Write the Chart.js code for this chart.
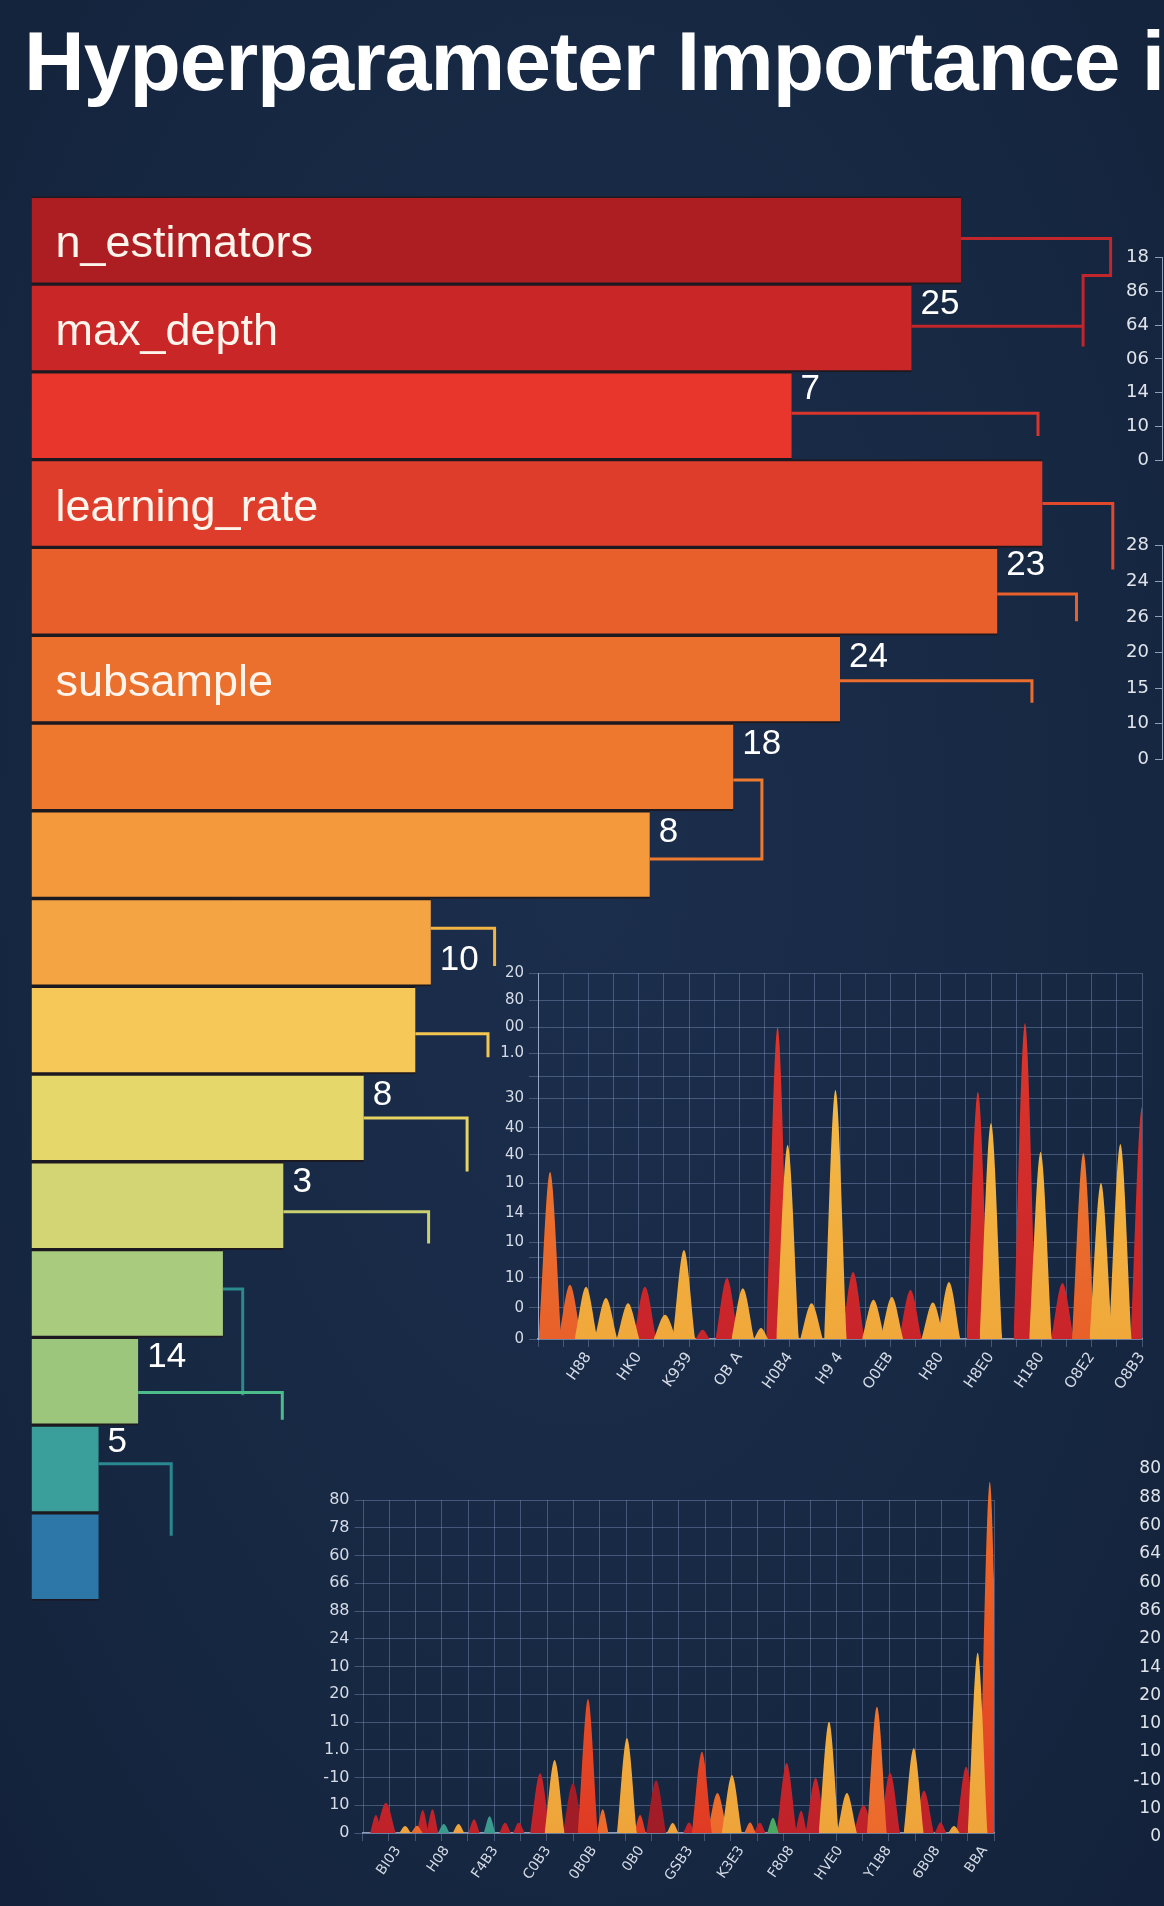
<!DOCTYPE html>
<html>
<head>
<meta charset="utf-8">
<title>Hyperparameter Importance</title>
<script src="https://cdn.jsdelivr.net/npm/chart.js@4.4.1/dist/chart.umd.min.js"></script>
<style>
html, body { margin: 0; padding: 0; overflow: hidden; }
body {
    width: 1164px; height: 1906px; position: relative;
    background: radial-gradient(ellipse at 50% 45%, #1b2e4c 0%, #172843 60%, #13223a 100%);
}
#title {
    position: absolute; left: 24px; top: 19px; margin: 0;
    font: bold 84px/84px "Liberation Sans", Arial, sans-serif;
    letter-spacing: -1px; color: #ffffff; white-space: nowrap;
}
canvas { position: absolute; }
</style>
</head>
<body>
<h1 id="title">Hyperparameter Importance in Gradient Boosting</h1>
<canvas id="bars" width="1164" height="1430" style="left:0;top:180px"></canvas>
<canvas id="mid" width="724" height="460" style="left:440px;top:955px"></canvas>
<canvas id="bottom" width="730" height="451" style="left:290px;top:1455px"></canvas>
<canvas id="side1" width="160" height="236" style="left:1080px;top:241px"></canvas>
<canvas id="side2" width="160" height="247" style="left:1080px;top:529px"></canvas>
<canvas id="side3" width="160" height="396" style="left:1080px;top:1455px"></canvas>
<script>
// ---- main importance bars (top to bottom) ----
const barCats = ['n_estimators', 'max_depth', '', 'learning_rate', '', 'subsample', '', '',
                 '', '', '', '', '', '', '', '']
const barValues = [84.5, 80.0, 69.1, 91.9, 87.8, 73.5, 63.8, 56.2, 36.3, 34.9, 30.2, 22.9, 17.4, 9.7, 6.1, 6.1]
const barTags = ['', '25', '7', '', '23', '24', '18', '8', '10', '', '8', '3', '', '14', '5', '']

// bracket lines, [value, offset in bars] - the line starts at the bar end
const connectors = [
    {bar: 0, pts: [[98.1, -0.02], [98.1, 0.40], [95.6, 0.40], [95.6, 1.21]]},
    {bar: 1, pts: [[95.6, -0.02]]},
    {bar: 2, pts: [[91.5, -0.03], [91.5, 0.23]]},
    {bar: 3, pts: [[98.3, 0], [98.3, 0.75]]},
    {bar: 4, pts: [[95.0, 0.03], [95.0, 0.34]]},
    {bar: 5, pts: [[90.95, 0.02], [90.95, 0.27]]},
    {bar: 6, pts: [[66.4, 0.15], [66.4, 1.05], [56.2, 1.05]]},
    {bar: 8, pts: [[42.1, -0.16], [42.1, 0.27]]},
    {bar: 9, pts: [[41.5, 0.04], [41.5, 0.31]]},
    {bar: 10, pts: [[39.6, 0], [39.6, 0.61]]},
    {bar: 11, pts: [[36.1, 0.07], [36.1, 0.43]]},
    {bar: 12, pts: [[19.2, -0.05], [19.2, 1.16]]},
    {bar: 13, pts: [[22.8, 0.13], [22.8, 0.44]]},
    {bar: 14, pts: [[12.7, -0.06], [12.7, 0.76]]},
]

// ---- middle spike chart ----
const midPos = [0.48, 1.27, 1.91, 2.70, 3.58, 4.25, 5.05, 5.80, 6.54, 7.51, 8.14, 8.86, 9.52, 9.92, 10.87, 11.82,
                12.52, 13.33, 14.06, 14.80, 15.69, 16.33, 17.48, 18.00, 19.35, 19.97, 20.84, 21.67, 22.37, 23.14, 24.0]
const midHeights = [45.6, 14.8, 14.3, 11.2, 9.8, 14.3, 6.6, 24.3, 2.5, 16.7, 13.9, 3, 85.2, 53, 9.8, 68,
                    18.3, 10.7, 11.5, 13.4, 10, 15.6, 67.5, 59, 86.3, 51.1, 15.3, 50.8, 42.6, 53.3, 63.4]
const midKind = ['o', 'o', 'y', 'y', 'y', 'r', 'y', 'y', 'r', 'r', 'y', 'y', 'r', 'y', 'y', 'y',
                 'r', 'y', 'y', 'r', 'y', 'y', 'r', 'y', 'r', 'y', 'r', 'o', 'y', 'y', 'r']
// y ticks, listed bottom to top
const midYPos = [0, 8.5, 16.7, 22.4, 26.5, 34.4, 42.6, 50.3, 57.7, 65.8, 71.6, 78.1, 85.2, 92.6, 100]
const midYLabels = ['0', '0', '10', '', '10', '14', '10', '40', '40', '30', '', '1.0', '00', '80', '20']
const midXLabels = ['H88', 'HK0', 'K939', 'OB A', 'H0B4', 'H9 4', 'O0EB', 'H80', 'H8E0', 'H180', 'O8E2', 'O8B3']

// ---- bottom spike chart ----
const botPos = [0.51, 0.89, 1.62, 2.07, 2.29, 2.66, 3.09, 3.65, 4.24, 4.83, 5.42, 5.94, 6.75, 7.30, 8.0,
                8.57, 9.13, 10.05, 10.55, 11.16, 11.79, 12.41, 12.90, 13.49, 14.04, 14.73, 15.10, 15.60, 16.12,
                16.67, 17.22, 17.73, 18.41, 19.04, 19.55, 20.05, 20.95, 21.34, 21.97, 22.48, 22.94, 23.38, 23.84]
const botHeights = [0.65, 1.09, 0.25, 0.26, 0.83, 0.86, 0.32, 0.32, 0.5, 0.6, 0.37, 0.37, 2.15, 2.63, 1.8,
                    4.83, 0.86, 3.42, 0.65, 1.9, 0.36, 0.38, 2.93, 1.44, 2.09, 0.38, 0.37, 0.55, 2.52,
                    0.8, 1.98, 4.01, 1.44, 1.0, 4.55, 2.17, 3.06, 1.52, 0.38, 0.25, 2.39, 6.5, 12.66]
const botKind = ['r', 'r', 'y', 'o', 'r', 'r', 't', 'y', 'r', 't', 'r', 'r', 'r', 'y', 'd',
                 'R', 'o', 'y', 'R', 'd', 'y', 'r', 'R', 'o', 'y', 'o', 'r', 'g', 'r',
                 'r', 'r', 'y', 'y', 'r', 'o', 'r', 'y', 'r', 'r', 'y', 'r', 'y', 'R']
// y ticks 0..12, bottom to top
const botYLabels = ['0', '10', '-10', '1.0', '10', '20', '10', '24', '88', '66', '60', '78', '80']
const botXTickPos = [1.35, 3.2, 5.05, 7.05, 8.8, 10.6, 12.45, 14.4, 16.3, 18.15, 20.0, 21.85, 23.65]
const botXLabels = ['BI03', 'H08', 'F4B3', 'C0B3', '0B0B', '0B0', 'GSB3', 'K3E3', 'F808', 'HVE0', 'Y1B8', '6B08', 'BBA']

// ---- cut-off axes on the right edge ----
const side1Labels = ['18', '86', '64', '06', '14', '10', '0']
const side2Labels = ['28', '24', '26', '20', '15', '10', '0']
const side3Labels = ['80', '88', '60', '64', '60', '86', '20', '14', '20', '10', '10', '-10', '10', '0']

// styles
const barColors = ['#ad1e22', '#c92628', '#e8362c', '#df3d2b', '#e85f2c', '#eb6f2d', '#ed782e', '#f49a3c',
                   '#f4a443', '#f5c857', '#e6d76a', '#d3d574', '#a9cb7e', '#9cc67c', '#3a9f9a', '#2d77a8']
const connColors = ['#c0262a', '#c0262a', '#d8352c', '#e2492c', '#e8602c', '#eb6e2e', '#ee7a30', '#f2b444',
                    '#f3c650', '#e8d462', '#c8d070', '#2a8a8c', '#4cbc8a', '#2a8890']
const tagDy = [-0.27, -0.27, -0.30, -0.27, -0.30, -0.25, -0.26, -0.25, 0.2, -0.27, -0.26, -0.27, -0.27, -0.27, -0.30, -0.27]
const midPal = {
    r: {top: '#e0382c', bottom: '#c8242a', order: 2},
    o: {top: '#f08a34', bottom: '#e8602a', order: 1},
    y: {top: '#f6c04a', bottom: '#f0a83a', order: 0},
}
const botPal = {
    r: {top: '#d83028', bottom: '#c0222a', order: 2},
    d: {top: '#b82028', bottom: '#a01c26', order: 2},
    R: {top: '#f07028', bottom: '#e03a24', order: 1},
    o: {top: '#f28a34', bottom: '#ec6a2c', order: 1},
    y: {top: '#f6c24a', bottom: '#eea43a', order: 0},
    t: {top: '#4fb29e', bottom: '#3a9a8e', order: 0},
    g: {top: '#5cbc6c', bottom: '#4aa860', order: 0},
}
const gridC = 'rgba(125, 145, 185, 0.45)'
const axisC = 'rgba(165, 180, 210, 0.85)'
const textC = '#d5dbe6'

Chart.defaults.font.family = "'DejaVu Sans', sans-serif"
Chart.defaults.color = textC

const noHud = { legend: {display: false}, tooltip: {enabled: false} }

// draws brackets, names and numbers on top of the bars
const barDecor = {
    id: 'barDecor',
    afterDatasetsDraw(chart) {
        const ctx = chart.ctx, xs = chart.scales.x, ys = chart.scales.y
        const pitch = ys.getPixelForValue(1) - ys.getPixelForValue(0)
        ctx.save()
        ctx.lineWidth = 3
        connectors.forEach(function(c, k) {
            const yc = ys.getPixelForValue(c.bar)
            ctx.strokeStyle = connColors[k]
            ctx.beginPath()
            ctx.moveTo(xs.getPixelForValue(barValues[c.bar]), yc + c.pts[0][1] * pitch)
            c.pts.forEach(p => ctx.lineTo(xs.getPixelForValue(p[0]), yc + p[1] * pitch))
            ctx.stroke()
        })
        // names inside bars
        ctx.fillStyle = '#fdf4ec'
        ctx.font = '45px "Liberation Sans", Arial, sans-serif'
        ctx.textBaseline = 'alphabetic'
        barCats.forEach(function(name, i) {
            if (name) ctx.fillText(name, xs.left + 24, ys.getPixelForValue(i) + 17)
        })
        // numbers next to bar ends
        ctx.fillStyle = '#ffffff'
        ctx.font = '35px "Liberation Sans", Arial, sans-serif'
        ctx.textBaseline = 'middle'
        barTags.forEach(function(t, i) {
            if (t) ctx.fillText(t, xs.getPixelForValue(barValues[i]) + 9, ys.getPixelForValue(i) + tagDy[i] * pitch)
        })
        ctx.restore()
    }
}

new Chart(document.getElementById('bars'), {
    type: 'bar',
    data: {
        labels: barCats,
        datasets: [{
            data: barValues,
            backgroundColor: barColors,
            borderColor: '#1d1920',
            borderWidth: {top: 2, bottom: 2, left: 0, right: 0},
            borderSkipped: false,
            categoryPercentage: 1,
            barPercentage: 1,
        }]
    },
    options: {
        indexAxis: 'y',
        responsive: false, animation: false, events: [],
        layout: { padding: {left: 31.5, right: 32.5, top: 16.4, bottom: 9.4} },
        scales: { x: {display: false, min: 0, max: 100}, y: {display: false} },
        plugins: noHud,
    },
    plugins: [barDecor]
})

function vgrad(chart, col) {
    const a = chart.chartArea
    if (!a) return col.top
    const g = chart.ctx.createLinearGradient(0, a.bottom, 0, a.top)
    g.addColorStop(0, col.bottom)
    g.addColorStop(1, col.top)
    return g
}

// one filled peak per value
function spikeSets(pos, hts, kinds, pal, cut, halfSmall, halfBig) {
    return pos.map(function(p, i) {
        const col = pal[kinds[i]]
        const half = hts[i] < cut ? halfSmall : halfBig
        return {
            data: [{x: p - half, y: 0}, {x: p, y: hts[i]}, {x: p + half, y: 0}],
            fill: 'origin',
            borderWidth: 0,
            pointRadius: 0,
            cubicInterpolationMode: 'monotone',
            backgroundColor: c => vgrad(c.chart, col),
            order: col.order,
            clip: false,
        }
    })
}

function unitTicks(n) {
    var t = []
    for (var i = 0; i <= n; i++) t.push({value: i})
    return t
}

new Chart(document.getElementById('mid'), {
    type: 'line',
    data: { datasets: spikeSets(midPos, midHeights, midKind, midPal, 5, 0.28, 0.45) },
    options: {
        responsive: false, animation: false, events: [],
        layout: { padding: {top: 18, right: 22} },
        plugins: noHud,
        scales: {
            x: {
                type: 'linear', min: 0, max: 24,
                afterBuildTicks: s => { s.ticks = unitTicks(24) },
                grid: {color: gridC, tickLength: 8},
                border: {color: axisC, width: 1.5},
                ticks: {
                    autoSkip: false, minRotation: 55, maxRotation: 55, padding: 2,
                    color: textC, font: {size: 15},
                    callback: v => (v > 0 && v % 2 === 0) ? midXLabels[v / 2 - 1] : ''
                },
                afterFit: s => { s.height = 76 }
            },
            y: {
                min: 0, max: 100,
                afterBuildTicks: s => { s.ticks = midYPos.map(v => ({value: v})) },
                grid: {color: gridC, tickLength: 9},
                border: {color: axisC},
                ticks: {autoSkip: false, padding: 5, color: textC, font: {size: 15}, callback: (v, i) => midYLabels[i]},
                afterFit: s => { s.width = 98 }
            }
        }
    }
})

// the top spike pokes above the grid, so the y range runs a bit past the last
// tick and the column lines are drawn only up to that tick
const BOT_TOP_TICK = 12
const colLines = {
    id: 'colLines',
    beforeDatasetsDraw(chart) {
        const ctx = chart.ctx, xs = chart.scales.x, ys = chart.scales.y
        const top = ys.getPixelForValue(BOT_TOP_TICK), bottom = ys.getPixelForValue(0)
        ctx.save()
        ctx.strokeStyle = gridC
        ctx.lineWidth = 1
        for (var i = 0; i <= 24; i++) {
            const x = Math.round(xs.getPixelForValue(i)) + 0.5
            ctx.beginPath()
            ctx.moveTo(x, top)
            ctx.lineTo(x, bottom)
            ctx.stroke()
        }
        ctx.restore()
    }
}

new Chart(document.getElementById('bottom'), {
    type: 'line',
    data: { datasets: spikeSets(botPos, botHeights, botKind, botPal, 1, 0.22, 0.38) },
    options: {
        responsive: false, animation: false, events: [],
        layout: { padding: {top: 22.8, right: 26} },
        plugins: noHud,
        scales: {
            x: {
                type: 'linear', min: 0, max: 24,
                afterBuildTicks: s => {
                    s.ticks = unitTicks(24).map(t => ({value: t.value, grid: true}))
                        .concat(botXTickPos.map((v, i) => ({value: v, lab: i})))
                        .sort((a, b) => a.value - b.value)
                },
                grid: {
                    drawOnChartArea: false, tickLength: 8,
                    color: c => (c.tick && c.tick.grid) ? gridC : 'transparent'
                },
                border: {color: axisC, width: 1.5},
                ticks: {
                    autoSkip: false, minRotation: 55, maxRotation: 55, padding: 2,
                    color: textC, font: {size: 14},
                    callback: (v, i, ticks) => ticks[i].lab !== undefined ? botXLabels[ticks[i].lab] : ''
                },
                afterFit: s => { s.height = 73 }
            },
            y: {
                min: 0, max: 12.8,
                afterBuildTicks: s => { s.ticks = unitTicks(BOT_TOP_TICK) },
                grid: {color: gridC, tickLength: 8},
                border: {display: false},
                ticks: {autoSkip: false, padding: 5, color: textC, font: {size: 16}, callback: v => botYLabels[v]},
                afterFit: s => { s.width = 72.5 }
            }
        }
    },
    plugins: [colLines]
})

// axes of charts that run off the right edge
function sideAxis(id, labels, axisWidth, showLine, size) {
    new Chart(document.getElementById(id), {
        type: 'line',
        data: { datasets: [] },
        options: {
            responsive: false, animation: false, events: [],
            layout: { padding: {top: 14, bottom: 14} },
            plugins: noHud,
            scales: {
                x: {display: false},
                y: {
                    type: 'category', labels: labels, offset: false,
                    grid: {display: showLine, drawOnChartArea: false, color: axisC, tickLength: 7},
                    border: {display: showLine, color: axisC},
                    ticks: {autoSkip: false, padding: showLine ? 6 : 0, color: '#e0e4ea', font: {size: size}},
                    afterFit: s => { s.width = axisWidth }
                }
            }
        }
    })
}

sideAxis('side1', side1Labels, 82, true, 18)
sideAxis('side2', side2Labels, 82, true, 18)
sideAxis('side3', side3Labels, 88, false, 17)
</script>
</body>
</html>
